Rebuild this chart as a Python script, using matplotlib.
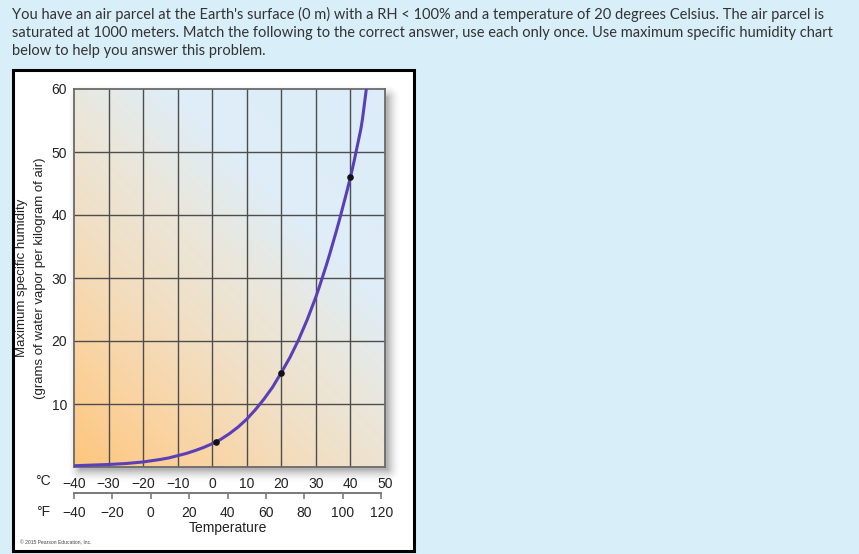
import numpy as np
import matplotlib
matplotlib.use("Agg")
import matplotlib.pyplot as plt
from matplotlib.colors import LinearSegmentedColormap
from matplotlib.patches import Rectangle

# ---------------- data ----------------
temp_c = [-40, -35, -30, -25, -20, -15, -12.5, -10, -7.5, -5, -2.5, 0, 2.5, 5,
          7.5, 10, 12.5, 15, 17.5, 20, 22.5, 25, 27.5, 30, 31, 32, 33, 34, 35,
          36, 37, 38, 39, 40, 41, 42, 43, 43.5, 44.6]
max_humidity = [0.2, 0.3, 0.4, 0.55, 0.8, 1.2, 1.45, 1.8, 2.15, 2.6, 3.1, 3.7,
                4.4, 5.3, 6.35, 7.6, 9.1, 10.8, 12.7, 15.0, 17.4, 20.2, 23.4,
                27.0, 28.6, 30.3, 32.0, 33.8, 35.7, 37.6, 39.6, 41.7, 43.8,
                46.0, 48.4, 51.0, 53.6, 55.3, 60.0]
dot_c = [1, 20, 40]
dot_q = [4, 15, 46]
c_ticks = [-40, -30, -20, -10, 0, 10, 20, 30, 40, 50]
f_ticks = [-40, -20, 0, 20, 40, 60, 80, 100, 120]
y_ticks = [10, 20, 30, 40, 50, 60]

question = ("You have an air parcel at the Earth's surface (0 m) with a RH < 100% and a temperature of 20 degrees Celsius. The air parcel is\n"
            "saturated at 1000 meters. Match the following to the correct answer, use each only once. Use maximum specific humidity chart\n"
            "below to help you answer this problem.")

# ---------------- figure ----------------
W, H = 859, 554
fig = plt.figure(figsize=(W / 100, H / 100), dpi=100)
fig.patch.set_facecolor("#D8EEF9")

# background axes in pixel coordinates
bg = fig.add_axes([0, 0, 1, 1], zorder=0)
bg.set_xlim(0, W)
bg.set_ylim(H, 0)
bg.axis("off")

# white chart box with black border
bg.add_patch(Rectangle((12.5, 70), 401.5, 480.5, facecolor="white",
                       edgecolor="black", linewidth=2.2, zorder=1))

# plot-area pixel bounds
px0, px1, py0, py1 = 74, 385, 89, 467

# drop shadow (right & bottom)
sx = np.arange(60, 412)
sy = np.arange(80, 495)
XX, YY = np.meshgrid(sx, sy)
rx0, rx1, ry0, ry1 = px0 + 6, px1 + 2, py0 + 8, py1 + 2
dx = np.maximum(np.maximum(rx0 - XX, XX - rx1), 0)
dy = np.maximum(np.maximum(ry0 - YY, YY - ry1), 0)
d = np.hypot(dx, dy)
alpha = np.clip(1 - d / 14.0, 0, 1) ** 2 * 0.45
shadow = np.zeros(XX.shape + (4,))
shadow[..., :3] = 0.35
shadow[..., 3] = alpha
bg.imshow(shadow, extent=(60, 412, 495, 80), origin="upper",
          interpolation="bilinear", zorder=2, aspect="auto")

# question text
bg.text(12, 7, question, fontsize=10.5, family="Lato", color="#333333",
        va="top", ha="left", linespacing=1.38, zorder=3)

# y label
bg.text(22, 278, "Maximum specific humidity", rotation=90, fontsize=9.5,
        family="Liberation Sans", color="#222222", ha="center", va="center", zorder=3)
bg.text(40, 278, "(grams of water vapor per kilogram of air)", rotation=90,
        fontsize=9.5, family="Liberation Sans", color="#222222",
        ha="center", va="center", zorder=3)

# unit labels and axis title
bg.text(43, 481, "°C", fontsize=10, family="Liberation Sans", color="#222222",
        ha="center", va="center", zorder=3)
bg.text(43, 512, "°F", fontsize=10, family="Liberation Sans", color="#222222",
        ha="center", va="center", zorder=3)
bg.text(228, 528, "Temperature", fontsize=10, family="Liberation Sans",
        color="#222222", ha="center", va="center", zorder=3)
bg.text(20, 543, "© 2015 Pearson Education, Inc.", fontsize=3.6,
        family="Liberation Sans", color="#444444", ha="left", va="center", zorder=3)

# ---------------- main axes ----------------
ax = fig.add_axes([px0 / W, (H - py1) / H, (px1 - px0) / W, (py1 - py0) / H], zorder=2)
ax.set_xlim(-40, 50)
ax.set_ylim(0, 60)

# diagonal gradient background
gw, gh = px1 - px0, py1 - py0
gx, gy = np.meshgrid(np.arange(gw), np.arange(gh))
u = (gx + gy) / (gw + gh)
cmap = LinearSegmentedColormap.from_list(
    "grad",
    [(0.0, "#FDC67E"), (120 / 689, "#FAD3A0"), (250 / 689, "#F1DFC4"),
     (350 / 689, "#EBE6D9"), (470 / 689, "#DFEDF7"), (1.0, "#DCEEFA")])
ax.imshow(u, cmap=cmap, vmin=0, vmax=1, extent=(-40, 50, 0, 60),
          origin="lower", aspect="auto", zorder=0, interpolation="bilinear")

# grid
for xv in c_ticks[1:-1]:
    ax.axvline(xv, color="#4d4d4d", linewidth=1.0, zorder=1)
for yv in y_ticks[:-1]:
    ax.axhline(yv, color="#4d4d4d", linewidth=1.0, zorder=1)

for s in ax.spines.values():
    s.set_color("#6a6a6a")
    s.set_linewidth(1.3)

# curve and dots
ax.plot(temp_c, max_humidity, color="#5A3FB8", linewidth=2.2, zorder=3,
        solid_capstyle="butt", solid_joinstyle="round")
ax.scatter(dot_c, dot_q, s=14, color="#111111", zorder=4)

# ticks
ax.set_yticks(y_ticks)
ax.set_yticklabels([str(v) for v in y_ticks], fontsize=10,
                   family="Liberation Sans", color="#222222")
ax.set_xticks(c_ticks)
ax.set_xticklabels([("\u2212" + str(-v)) if v < 0 else str(v) for v in c_ticks],
                   fontsize=10, family="Liberation Sans", color="#222222")
ax.tick_params(axis="both", length=0)
ax.tick_params(axis="y", pad=5)
ax.tick_params(axis="x", pad=7)

# Fahrenheit secondary scale
secax = ax.secondary_xaxis(-0.069, functions=(lambda c: c * 9 / 5 + 32,
                                              lambda f: (f - 32) * 5 / 9))
secax.set_xticks(f_ticks)
secax.set_xticklabels([("\u2212" + str(-v)) if v < 0 else str(v) for v in f_ticks],
                      fontsize=10, family="Liberation Sans", color="#222222")
secax.spines["bottom"].set_bounds(-40, 120)
secax.spines["bottom"].set_color("#7a7a7a")
secax.spines["bottom"].set_linewidth(1.4)
secax.tick_params(axis="x", length=4, width=1.2, color="#7a7a7a", pad=5,
                  direction="out")

fig.savefig("out.png", dpi=100, facecolor=fig.get_facecolor())
